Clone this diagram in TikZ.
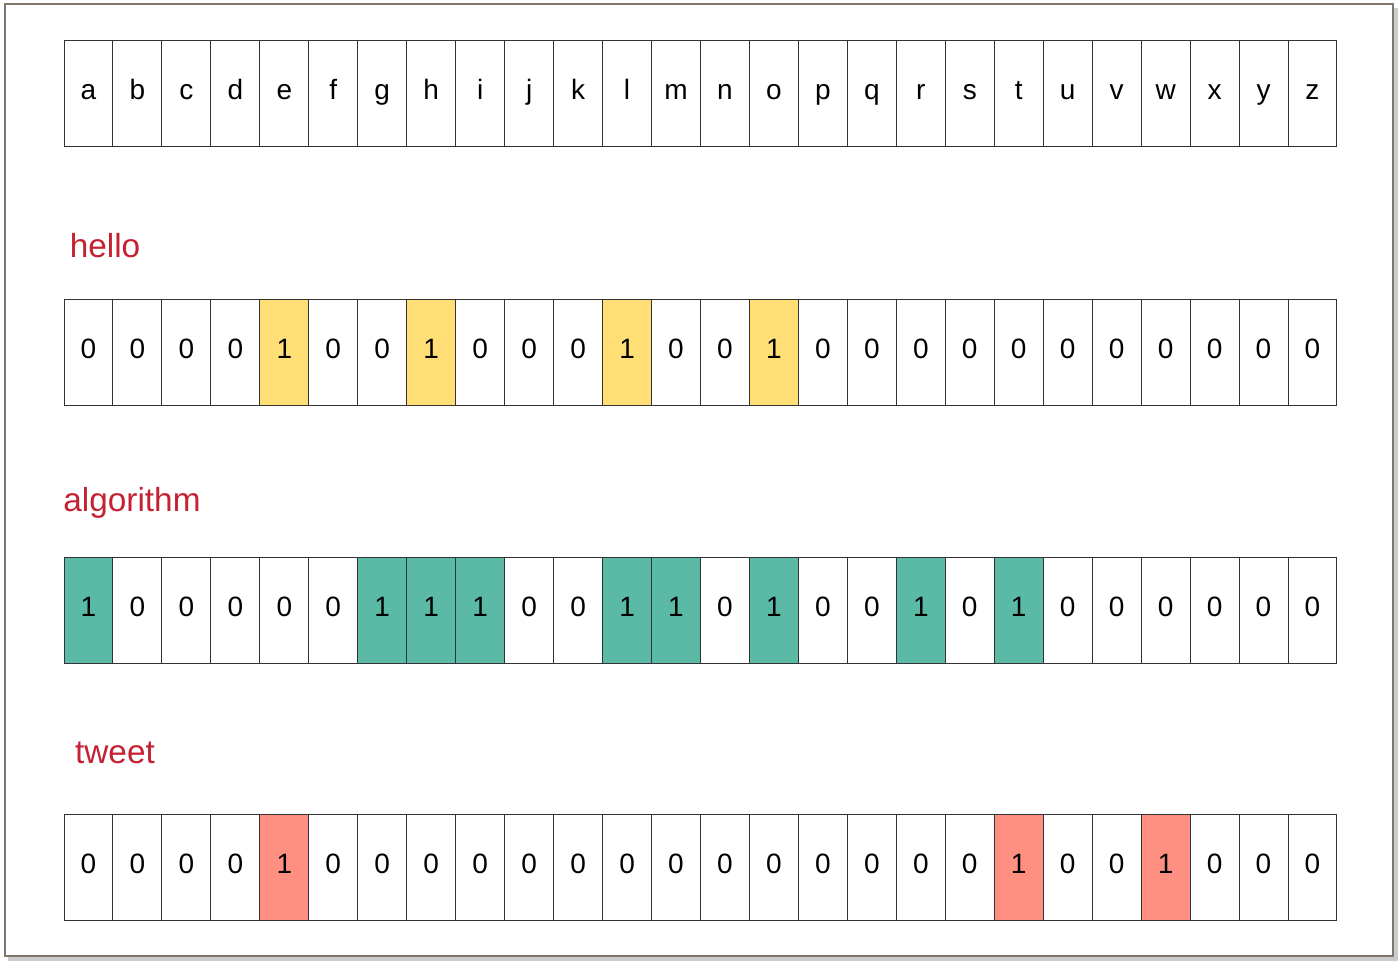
\documentclass[tikz,border=0pt]{standalone}
\usepackage{fontspec}
\setmainfont{Liberation Sans}
\definecolor{bityellow}{HTML}{FFDF75}
\definecolor{bitteal}{HTML}{5BBAA5}
\definecolor{bitsalmon}{HTML}{FF8F80}
\definecolor{wordred}{HTML}{C42233}
\definecolor{framegrey}{HTML}{7D776C}
\tikzset{
  cell/.style={draw=black!80, line width=0.75pt, minimum width=36.72pt,
    minimum height=79.5pt, inner sep=0pt, outer sep=0pt,
    text height=15pt, text depth=6pt,
    font=\fontsize{21}{21}\selectfont},
  word/.style={text=wordred, font=\fontsize{25}{25}\selectfont, inner sep=0pt}
}
\begin{document}
\begin{tikzpicture}[x=0.75pt,y=-0.75pt]
\useasboundingbox (0,0) rectangle (1400,963);
% Frame with shadow
\fill[black!20] (8,8) rectangle (1398,961);
\draw[framegrey, line width=1.5pt, fill=white] (5,4) rectangle (1393,956);
% Alphabet row
\foreach \ch [count=\i] in {a,b,c,d,e,f,g,h,i,j,k,l,m,n,o,p,q,r,s,t,u,v,w,x,y,z}
  \node[cell] (abc-\i) at ({64+(\i-0.5)*48.96},94) {\ch};
% hello
\node[word] (hello) at (105,246) {hello};
\foreach \b [count=\i] in {0,0,0,0,1,0,0,1,0,0,0,1,0,0,1,0,0,0,0,0,0,0,0,0,0,0}{
  \ifnum\b=1 \def\bg{bityellow}\else\def\bg{white}\fi
  \node[cell, fill=\bg] (hello-\i) at ({64+(\i-0.5)*48.96},352) {\b};
}
% algorithm
\node[word] (algorithm) at (132,503) {algorithm};
\foreach \b [count=\i] in {1,0,0,0,0,0,1,1,1,0,0,1,1,0,1,0,0,1,0,1,0,0,0,0,0,0}{
  \ifnum\b=1 \def\bg{bitteal}\else\def\bg{white}\fi
  \node[cell, fill=\bg] (algorithm-\i) at ({64+(\i-0.5)*48.96},610) {\b};
}
% tweet
\node[word] (tweet) at (115,753) {tweet};
\foreach \b [count=\i] in {0,0,0,0,1,0,0,0,0,0,0,0,0,0,0,0,0,0,0,1,0,0,1,0,0,0}{
  \ifnum\b=1 \def\bg{bitsalmon}\else\def\bg{white}\fi
  \node[cell, fill=\bg] (tweet-\i) at ({64+(\i-0.5)*48.96},867) {\b};
}
\end{tikzpicture}
\end{document}
